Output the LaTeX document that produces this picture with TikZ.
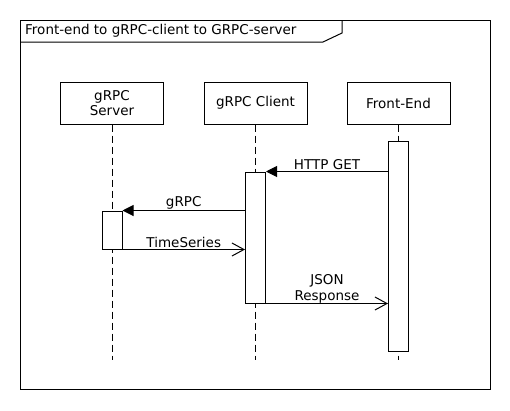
\documentclass[tikz,border=0pt]{standalone}
\usepackage{fontspec}
\setmainfont{DejaVu Sans}
\usetikzlibrary{arrows.meta}
\tikzstyle{part}=[draw,line width=1pt,minimum width=103pt,minimum height=42pt,align=center,inner sep=1pt]
\tikzstyle{act}=[draw,line width=1pt,fill=white,minimum width=20pt,inner sep=0pt]
\tikzstyle{life}=[line width=1pt,dash pattern=on 7pt off 4pt]
\tikzstyle{msg}=[line width=1pt]
\tikzstyle{lbl}=[above,inner sep=1pt,align=center]

\begin{document}
\begin{tikzpicture}[x=1pt,y=-1pt,font=\fontsize{13.5}{15.5}\selectfont]
    \useasboundingbox (0,0) rectangle (510,410);
    % frame
    \draw[line width=1pt] (20,20) rectangle (490,389);
    \draw[line width=1pt] (20,42) -- (323,42) -- (342,33) -- (342,20);
    \node[anchor=west,inner sep=0pt] (title) at (25,31) {Front-end to gRPC-client to GRPC-server};
    % participants and lifelines
    \foreach \n/\x/\t in {srv/112/{gRPC\\Server}, cl/255.5/{gRPC Client}, fe/398.5/{Front-End}} {
        \node[part] (\n) at (\x,103) {\t};
        \coordinate (\n end) at (\x,360);
        \draw[life] (\n.south) -- (\n end);
    }
    % activations
    \node[act,minimum height=210pt] (feact) at (398.5,246) {};
    \node[act,minimum height=131pt] (clact) at (255.5,237.5) {};
    \node[act,minimum height=38pt] (srvact) at (112,230) {};
    % messages
    \draw[msg,-{Triangle[length=11pt,width=11pt]}] (clact.north east -| feact.west) -- (clact.north east)
        node[lbl,midway] {HTTP GET};
    \draw[msg,-{Triangle[length=11pt,width=11pt]}] (srvact.north east -| clact.west) -- (srvact.north east)
        node[lbl,midway] {gRPC};
    \draw[msg,-{Straight Barb[length=12pt,width=13pt]}] (srvact.south east) -- (srvact.south east -| clact.west)
        node[lbl,midway] {TimeSeries};
    \draw[msg,-{Straight Barb[length=12pt,width=13pt]}] (clact.south east) -- (clact.south east -| feact.west)
        node[lbl,midway,inner sep=0pt] {JSON\\Response};
\end{tikzpicture}
\end{document}
